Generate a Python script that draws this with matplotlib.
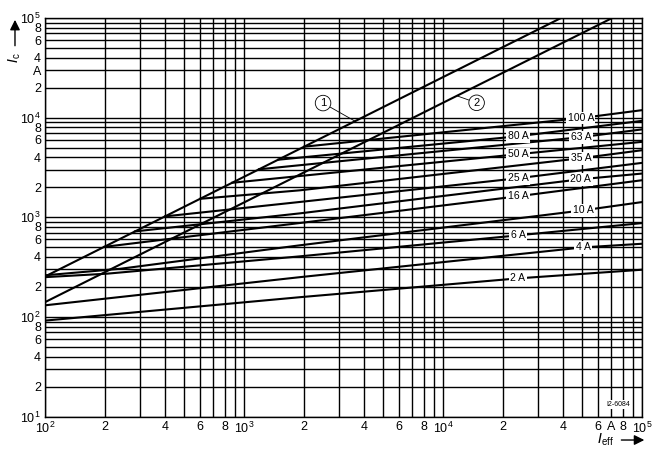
import numpy as np
import matplotlib

matplotlib.use("Agg")
import matplotlib.pyplot as plt

plt.rcParams["font.family"] = ["Liberation Sans", "DejaVu Sans"]
plt.rcParams["mathtext.default"] = "regular"

# Ieff (A) / Ic (A)
LINE_IEFF = [1e2, 1e5]
LINE1_IC = [255, 255000]  # 1: max. asymmetric peak
LINE2_IC = [141, 141000]  # 2: symmetric peak (sqrt 2 * Ieff)

FUSE_NAMES = ["2 A", "4 A", "6 A", "10 A", "16 A", "20 A",
              "25 A", "35 A", "50 A", "63 A", "80 A", "100 A"]
FUSE_IEFF = [
    [100, 1910, 23800, 1e5],
    [100, 1910, 50500, 1e5],
    [100, 205, 1910, 23800, 1e5],
    [100, 240, 1910, 50500, 1e5],
    [198, 1910, 23800, 1e5],
    [283, 1910, 49300, 1e5],
    [401, 1910, 23800, 1e5],
    [601, 1910, 49300, 1e5],
    [871, 23800, 1e5],
    [1189, 49300, 1e5],
    [1483, 23800, 1e5],
    [2004, 49300, 1e5],
]
FUSE_IC = [
    [92, 158, 244, 298],
    [131, 251, 499, 543],
    [251, 272, 406, 659, 875],
    [262, 305, 524, 1175, 1422],
    [505, 877, 1626, 2355],
    [722, 1096, 2410, 2748],
    [1022, 1426, 2466, 3516],
    [1533, 1866, 3917, 4710],
    [2221, 4295, 5715],
    [3032, 6368, 7621],
    [3782, 6500, 9290],
    [5111, 9900, 11885],
]
# where the rating label sits along each curve
LABEL_IEFF = [23800, 50500, 23800, 50500, 23800, 49300,
              23800, 49300, 23800, 49300, 23800, 49300]

X_TICK_LABELS = (["$10^2$", "2", "", "4", "", "6", "", "8", ""]
                 + ["$10^3$", "2", "", "4", "", "6", "", "8", ""]
                 + ["$10^4$", "2", "", "4", "", "6", "A", "8", ""]
                 + ["$10^5$"])
Y_TICK_LABELS = (["$10^1$", "2", "", "4", "", "6", "", "8", ""]
                 + ["$10^2$", "2", "", "4", "", "6", "", "8", ""]
                 + ["$10^3$", "2", "", "4", "", "6", "", "8", ""]
                 + ["$10^4$", "2", "A", "4", "", "6", "", "8", ""]
                 + ["$10^5$"])


def log_ticks(first_exp, last_exp):
    ticks = []
    for e in range(first_exp, last_exp):
        ticks += [m * 10.0**e for m in range(1, 10)]
    ticks.append(10.0**last_exp)
    return ticks


def curve_value(xs, ys, x):
    return 10 ** np.interp(np.log10(x), np.log10(xs), np.log10(ys))


def main():
    fig = plt.figure(figsize=(6.63, 4.49), dpi=100)
    ax = fig.add_axes([0.068, 0.072, 0.9003, 0.888])
    ax.set_xscale("log")
    ax.set_yscale("log")
    ax.set_xlim(1e2, 1e5)
    ax.set_ylim(1e1, 1e5)

    ax.set_xticks(log_ticks(2, 5), X_TICK_LABELS, fontsize=9)
    ax.set_yticks(log_ticks(1, 5), Y_TICK_LABELS, fontsize=9)
    ax.minorticks_off()
    ax.tick_params(length=0, pad=3)
    ax.grid(True, color="black", linewidth=1.0)
    for sp in ax.spines.values():
        sp.set_linewidth(1.0)

    ax.plot(LINE_IEFF, LINE1_IC, color="black", linewidth=1.5, zorder=3)
    ax.plot(LINE_IEFF, LINE2_IC, color="black", linewidth=1.5, zorder=3)

    for name, xs, ys, lx in zip(FUSE_NAMES, FUSE_IEFF, FUSE_IC, LABEL_IEFF):
        ax.plot(xs, ys, color="black", linewidth=1.5, zorder=3)
        ax.text(lx, curve_value(xs, ys, lx), name, fontsize=7.5,
                ha="center", va="center", zorder=4,
                bbox=dict(facecolor="white", edgecolor="none", pad=1.0))

    circle = dict(boxstyle="circle,pad=0.25", facecolor="white",
                  edgecolor="black", linewidth=0.6)
    leader = dict(arrowstyle="-", color="black", linewidth=0.6,
                  shrinkA=0, shrinkB=0)
    ax.annotate("1", xy=(3613, 9213), xytext=(2495, 14000), fontsize=8,
                ha="center", va="center", bbox=circle, arrowprops=leader,
                zorder=5)
    ax.annotate("2", xy=(11720, 16573), xytext=(14750, 14090), fontsize=8,
                ha="center", va="center", bbox=circle, arrowprops=leader,
                zorder=5)

    ax.text(75700, 13.2, "I2-6084", fontsize=5, ha="center", va="center",
            zorder=5, bbox=dict(facecolor="white", edgecolor="none", pad=0.8))

    # axis labels with arrows
    fig.text(0.0226, 0.871, r"$\mathit{I}_c$", rotation=90, fontsize=10,
             ha="center", va="center")
    fig.add_artist(matplotlib.patches.FancyArrowPatch(
        (0.0226, 0.892), (0.0226, 0.962), transform=fig.transFigure,
        arrowstyle="-|>,head_length=6,head_width=3", color="black",
        linewidth=1.0))
    fig.text(0.914, 0.02, r"$\mathit{I}_{eff}$", fontsize=10, ha="center",
             va="center")
    fig.add_artist(matplotlib.patches.FancyArrowPatch(
        (0.933, 0.02), (0.976, 0.02), transform=fig.transFigure,
        arrowstyle="-|>,head_length=6,head_width=3", color="black",
        linewidth=1.0))

    fig.savefig("out.png", dpi=100)


if __name__ == "__main__":
    main()
